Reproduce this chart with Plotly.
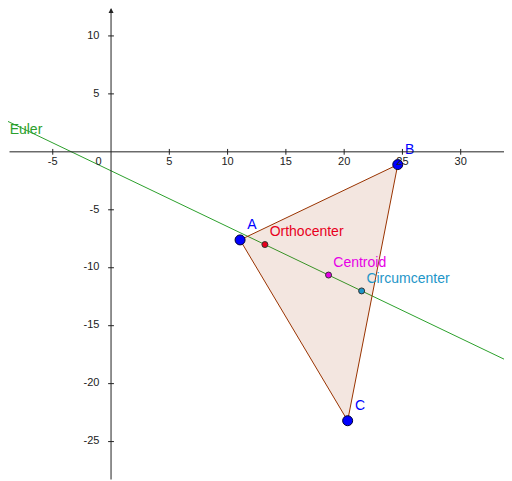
import plotly.graph_objects as go

# triangle vertices
names = ["A", "B", "C"]
xs = [11.07, 24.6, 20.3]
ys = [-7.6, -1.1, -23.2]

# triangle centres
centre_names = ["Orthocenter", "Centroid", "Circumcenter"]
centre_x = [13.2, 18.66, 21.5]
centre_y = [-8.0, -10.63, -12.0]
centre_colors = ["#e8001c", "#e600e6", "#1e96c8"]

x_ticks = [-5, 0, 5, 10, 15, 20, 25, 30]
y_ticks = [10, 5, -5, -10, -15, -20, -25]

x_range = [-8.84, 34.4]
y_range = [-28.4, 12.41]

fig = go.Figure()

# euler line through orthocenter and circumcenter
slope = (centre_y[2] - centre_y[0]) / (centre_x[2] - centre_x[0])
ex = [x_range[0], x_range[1]]
ey = [centre_y[0] + slope * (v - centre_x[0]) for v in ex]
fig.add_trace(go.Scatter(x=ex, y=ey, mode="lines", line=dict(color="#2ca02c", width=1),
                         hoverinfo="skip"))

fig.add_trace(go.Scatter(x=xs + [xs[0]], y=ys + [ys[0]], mode="lines", fill="toself",
                         fillcolor="rgba(153,51,0,0.12)", line=dict(color="#993300", width=1)))

fig.add_trace(go.Scatter(x=xs, y=ys, mode="markers+text", text=names,
                         textposition="top right",
                         textfont=dict(color="#0000ff", size=14, family="Liberation Sans"),
                         marker=dict(color="#0000ff", size=10, line=dict(color="#000033", width=1))))

fig.add_trace(go.Scatter(x=centre_x, y=centre_y, mode="markers+text", text=centre_names,
                         textposition="top right",
                         textfont=dict(color=centre_colors, size=14, family="Liberation Sans"),
                         marker=dict(color=centre_colors, size=6, line=dict(color="#333", width=1))))

# tick labels along axes
fig.add_trace(go.Scatter(x=x_ticks, y=[-0.9] * len(x_ticks), mode="text",
                         text=[str(t) if t != 0 else "" for t in x_ticks],
                         textfont=dict(size=11, color="#222", family="Liberation Sans")))
fig.add_trace(go.Scatter(x=[-1.0] * len(y_ticks), y=y_ticks, mode="text", text=[str(t) for t in y_ticks],
                         textposition="middle left",
                         textfont=dict(size=11, color="#222", family="Liberation Sans")))
fig.add_trace(go.Scatter(x=[-0.8], y=[-0.9], mode="text", text=["0"], textposition="middle left",
                         textfont=dict(size=11, color="#222", family="Liberation Sans")))
fig.add_trace(go.Scatter(x=[-8.7], y=[1.8], mode="text", text=["Euler"], textposition="middle right",
                         textfont=dict(size=14, color="#2ca02c", family="Liberation Sans")))

fig.add_annotation(x=x_range[1], y=0, ax=x_range[0], ay=0, xref="x", yref="y", axref="x", ayref="y",
                   showarrow=True, arrowhead=2, arrowwidth=1, arrowcolor="#222", text="")
fig.add_annotation(x=0, y=y_range[1], ax=0, ay=y_range[0], xref="x", yref="y", axref="x", ayref="y",
                   showarrow=True, arrowhead=2, arrowwidth=1, arrowcolor="#222", text="")
for t in x_ticks:
    if t != 0:
        fig.add_shape(type="line", x0=t, x1=t, y0=-0.25, y1=0.25, line=dict(color="#222", width=1))
for t in y_ticks:
    fig.add_shape(type="line", x0=-0.25, x1=0.25, y0=t, y1=t, line=dict(color="#222", width=1))

fig.update_xaxes(range=x_range, visible=False)
fig.update_yaxes(range=y_range, visible=False)
fig.update_layout(width=504, height=473, margin=dict(l=0, r=0, t=0, b=0), showlegend=False,
                  plot_bgcolor="white", paper_bgcolor="white")
fig.write_html("out.html")
